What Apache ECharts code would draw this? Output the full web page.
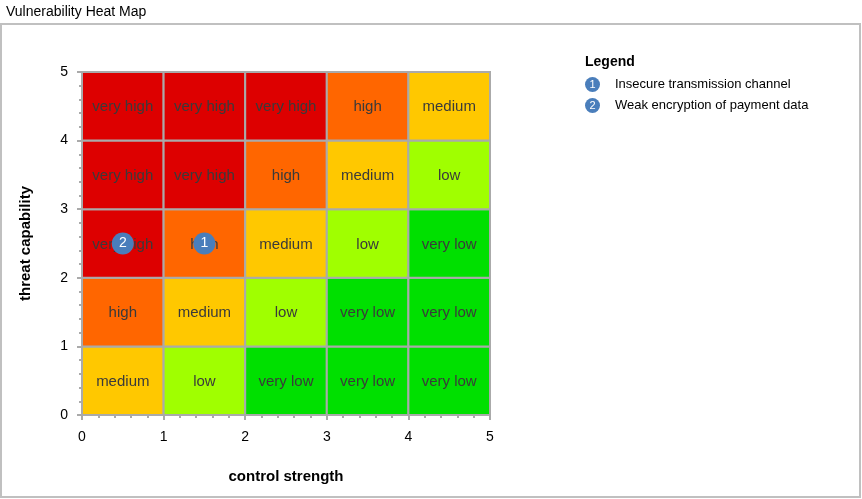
<!DOCTYPE html>
<html>
<head>
<meta charset="utf-8">
<script src="https://cdn.jsdelivr.net/npm/echarts@6/dist/echarts.min.js"></script>
<style>html,body{margin:0;padding:0;background:#fff}#c{width:862px;height:499px}</style>
</head>
<body>
<div id="c"></div>
<script>
// control strength columns (x), threat capability rows (y)
var xTicks = [0, 1, 2, 3, 4, 5];
var yTicks = [0, 1, 2, 3, 4, 5];
// levels per row, from bottom row (y 0-1) to top row (y 4-5), columns x 0..4
var row0 = ['medium', 'low', 'very low', 'very low', 'very low'];
var row1 = ['high', 'medium', 'low', 'very low', 'very low'];
var row2 = ['very high', 'high', 'medium', 'low', 'very low'];
var row3 = ['very high', 'very high', 'high', 'medium', 'low'];
var row4 = ['very high', 'very high', 'very high', 'high', 'medium'];
var rows = [row0, row1, row2, row3, row4];
var levelColors = {
  'very high': '#dd0000',
  'high': '#ff6600',
  'medium': '#ffc800',
  'low': '#a0ff00',
  'very low': '#00e000'
};
// vulnerabilities
var vulnNames = ['Insecure transmission channel', 'Weak encryption of payment data'];
var vulnIds = ['1', '2'];
var vulnX = [1.5, 0.5];
var vulnY = [2.5, 2.5];

var cells = [];
rows.forEach(function (r, yi) {
  r.forEach(function (lvl, xi) { cells.push([xi, yi, lvl]); });
});

var FONT = 'Liberation Sans, Arial, sans-serif';
var chart = echarts.init(document.getElementById('c'));
var rich = {
  n: { backgroundColor: '#4a7ebb', borderRadius: 7.5, width: 15, height: 15, align: 'center', color: '#fff', fontSize: 11, lineHeight: 15, fontFamily: FONT },
  t: { padding: [0, 0, 0, 15], fontSize: 13, color: '#000', fontFamily: FONT }
};

var series = [{
  type: 'custom',
  silent: true,
  z: 2,
  renderItem: function (params, api) {
    var x = api.value(0), y = api.value(1);
    var p0 = api.coord([x, y + 1]);
    var p1 = api.coord([x + 1, y]);
    var lvl = cells[params.dataIndex][2];
    return {
      type: 'rect',
      shape: { x: p0[0], y: p0[1], width: p1[0] - p0[0], height: p1[1] - p0[1] },
      style: { fill: levelColors[lvl], stroke: '#aaaaaa', lineWidth: 2 },
      textContent: {
        style: { text: lvl, fill: '#3a3a3a', fontSize: 15, fontFamily: FONT }
      },
      textConfig: { position: 'inside', offset: [0, 1] }
    };
  },
  encode: { x: 0, y: 1 },
  data: cells
}];
vulnNames.forEach(function (nm, i) {
  series.push({
    type: 'scatter',
    name: nm,
    z: 5,
    symbol: 'circle',
    symbolSize: 22,
    itemStyle: { color: '#4a7ebb', opacity: 1 },
    label: { show: true, position: 'inside', formatter: vulnIds[i], color: '#fff', fontSize: 14, fontFamily: FONT },
    data: [[vulnX[i], vulnY[i]]]
  });
});

chart.setOption({
  animation: false,
  textStyle: { fontFamily: FONT },
  title: [
    { text: 'Vulnerability Heat Map', left: 1, top: 0, textStyle: { fontSize: 14, fontWeight: 'normal', color: '#000', fontFamily: FONT } },
    { text: 'Legend', left: 580, top: 50, textStyle: { fontSize: 14, fontWeight: 'bold', color: '#000', fontFamily: FONT } }
  ],
  graphic: [{
    type: 'rect', silent: true,
    shape: { x: 1, y: 24, width: 859, height: 473 },
    style: { fill: 'none', stroke: '#c0c0c0', lineWidth: 2 }
  }],
  legend: {
    orient: 'vertical',
    left: 575, top: 72,
    icon: 'none',
    itemWidth: 0,
    itemGap: 6,
    data: vulnNames,
    formatter: function (name) {
      var i = vulnNames.indexOf(name);
      return '{n|' + vulnIds[i] + '}{t|' + name + '}';
    },
    textStyle: { fontSize: 13, color: '#000', rich: rich }
  },
  grid: { left: 82, right: 372, top: 72, bottom: 84 },
  xAxis: {
    type: 'value', min: xTicks[0], max: xTicks[xTicks.length - 1], interval: 1,
    name: 'control strength', nameLocation: 'middle', nameGap: 54,
    nameTextStyle: { fontSize: 15, fontWeight: 'bold', color: '#000' },
    axisLine: { lineStyle: { color: '#aaaaaa', width: 2 } },
    axisTick: { show: true, length: 5, lineStyle: { color: '#aaaaaa', width: 2 } },
    minorTick: { show: true, splitNumber: 5, length: 3, lineStyle: { color: '#aaaaaa', width: 2 } },
    axisLabel: { color: '#000', fontSize: 14, margin: 15 },
    splitLine: { show: false }
  },
  yAxis: {
    type: 'value', min: yTicks[0], max: yTicks[yTicks.length - 1], interval: 1,
    name: 'threat capability', nameLocation: 'middle', nameGap: 49, nameRotate: 90,
    nameTextStyle: { fontSize: 15, fontWeight: 'bold', color: '#000' },
    axisLine: { show: true, lineStyle: { color: '#aaaaaa', width: 2 } },
    axisTick: { show: true, length: 5, lineStyle: { color: '#aaaaaa', width: 2 } },
    minorTick: { show: true, splitNumber: 5, length: 3, lineStyle: { color: '#aaaaaa', width: 2 } },
    axisLabel: { color: '#000', fontSize: 14, margin: 14 },
    splitLine: { show: false }
  },
  series: series
});
</script>
</body>
</html>
